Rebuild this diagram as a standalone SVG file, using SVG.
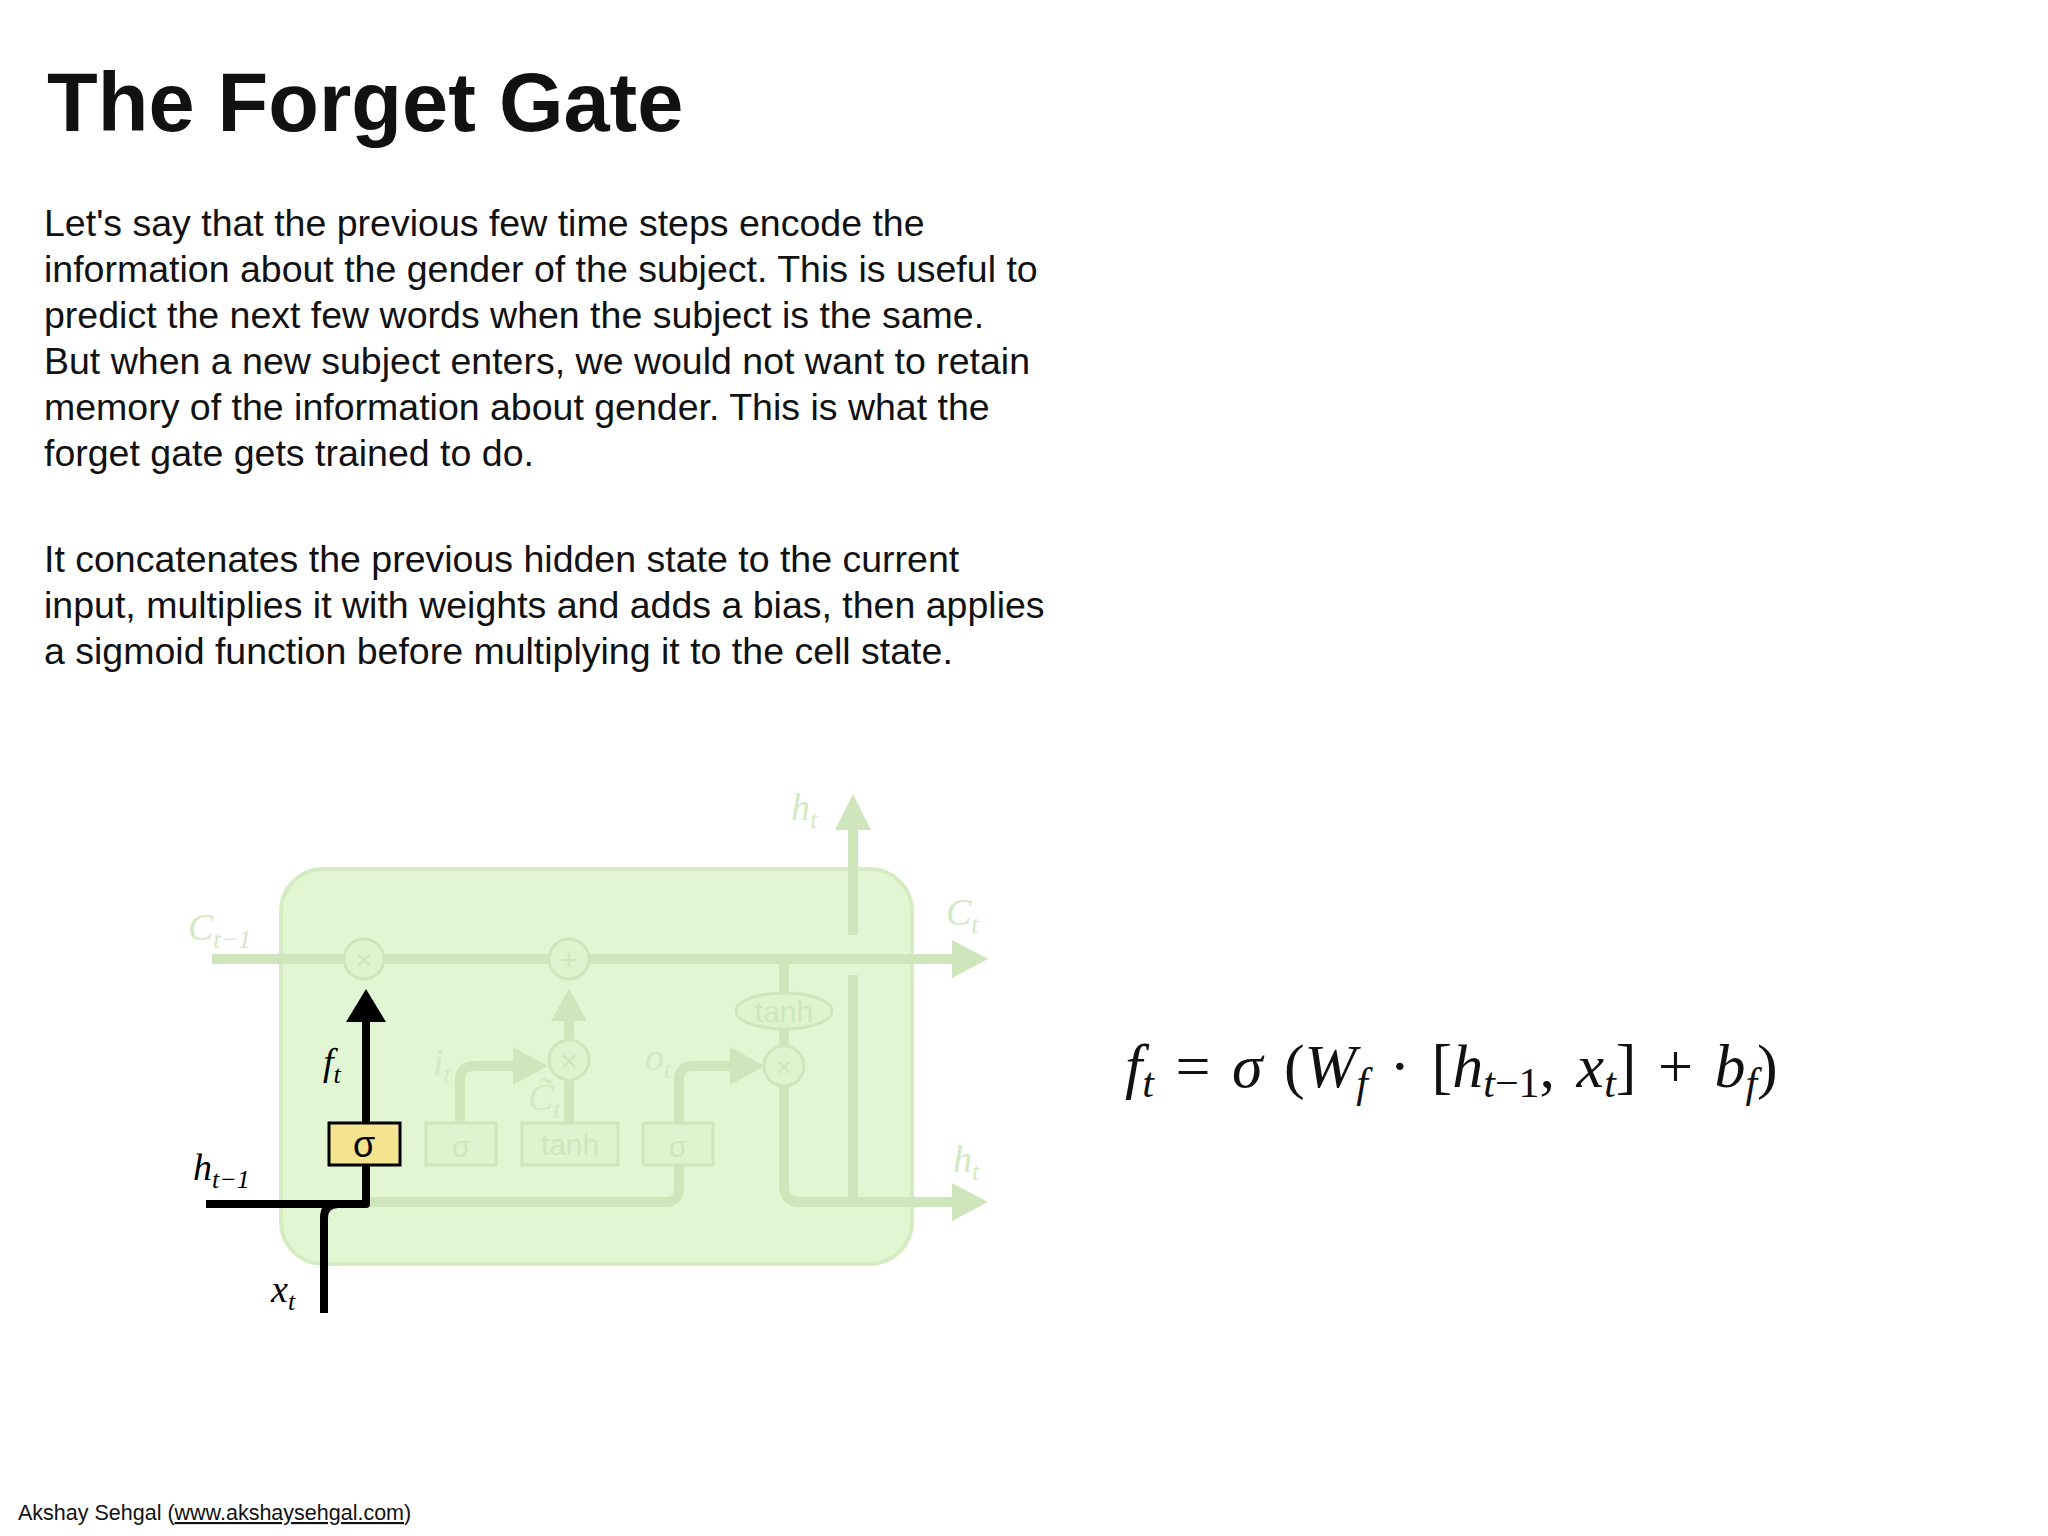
<svg xmlns="http://www.w3.org/2000/svg" width="2048" height="1536" viewBox="0 0 2048 1536">
<defs>
<style>
.t{font-family:"Liberation Sans",Arial,sans-serif;fill:#111}
.m{font-family:"Liberation Serif","Times New Roman",serif;font-style:italic}
.f{fill:none;stroke:#cfe6bd;stroke-width:10;stroke-linejoin:round}
.fc{fill:#dff3cf;stroke:#cfe6bd;stroke-width:3}
.fl{fill:#cfe6bd;font-family:"Liberation Sans",Arial,sans-serif;font-size:30px;text-anchor:middle}
.fm{fill:#cfe6bd}
.b{fill:none;stroke:#000;stroke-width:8;stroke-linejoin:round}
</style>
</defs>
<rect width="2048" height="1536" fill="#fff"/>
<text class="t" x="47" y="131" font-size="83" font-weight="bold">The Forget Gate</text>
<g class="t" font-size="37.5">
<text x="44" y="236">Let's say that the previous few time steps encode the</text>
<text x="44" y="282">information about the gender of the subject. This is useful to</text>
<text x="44" y="328">predict the next few words when the subject is the same.</text>
<text x="44" y="374">But when a new subject enters, we would not want to retain</text>
<text x="44" y="420">memory of the information about gender. This is what the</text>
<text x="44" y="466">forget gate gets trained to do.</text>
<text x="44" y="572">It concatenates the previous hidden state to the current</text>
<text x="44" y="618">input, multiplies it with weights and adds a bias, then applies</text>
<text x="44" y="664">a sigmoid function before multiplying it to the cell state.</text>
</g>
<g id="cell">
<rect x="281" y="869" width="631" height="395" rx="42" fill="#e2f6d3" stroke="#d5ecc3" stroke-width="4"/>
</g>
<g id="connectors">
<path class="f" d="M212 959 H962"/><polygon class="fm" points="988,959 952,940 952,978"/>
<path class="f" d="M366 1202 H665 Q679 1202 679 1188 V1080 Q679 1066 693 1066 H740"/><polygon class="fm" points="765,1066 730,1047 730,1085"/>
<path class="f" d="M460 1165 V1080 Q460 1066 474 1066 H525"/><polygon class="fm" points="548,1066 513,1047 513,1085"/>
<path class="f" d="M569 1165 V1081 M569 1039 V1010"/><polygon class="fm" points="569,988 551,1021 587,1021"/>
<path class="f" d="M784 959 V993 M784 1029 V1045 M784 1087 V1185 Q784 1202 800 1202 H962"/><polygon class="fm" points="988,1202 952,1183 952,1221"/>
<path class="f" d="M853 1200 V975 M853 935 V820"/><polygon class="fm" points="853,794 835,830 871,830"/>
<path class="b" d="M206 1204 H366 V1020"/><polygon points="366,989 346,1022 386,1022" fill="#000"/>
<path class="b" d="M324 1313 V1218 Q324 1204 338 1204"/>
</g>
<g id="ops">
<circle class="fc" cx="364" cy="959" r="20"/><text class="fl" x="364" y="970">×</text>
<circle class="fc" cx="569" cy="959" r="20"/><text class="fl" x="569" y="970">+</text>
<circle class="fc" cx="569" cy="1060" r="20"/><text class="fl" x="569" y="1071">×</text>
<circle class="fc" cx="784" cy="1066" r="20"/><text class="fl" x="784" y="1077">×</text>
<ellipse class="fc" cx="784" cy="1011" rx="48" ry="18"/><text class="fl" x="784" y="1022" font-size="28">tanh</text>
</g>
<g id="gates">
<rect x="329" y="1123" width="71" height="42" fill="#f4e48f" stroke="#000" stroke-width="3"/><text x="364" y="1157" font-family="Liberation Sans,sans-serif" font-size="36" text-anchor="middle">σ</text>
<rect class="fc" x="426" y="1123" width="70" height="42"/><text class="fl" x="461" y="1157" font-size="36">σ</text>
<rect class="fc" x="522" y="1123" width="96" height="42"/><text class="fl" x="570" y="1155">tanh</text>
<rect class="fc" x="643" y="1123" width="70" height="42"/><text class="fl" x="678" y="1157" font-size="36">σ</text>
</g>
<g id="labels" class="m" font-size="38">
<text x="188" y="940" fill="#d3e9c3">C<tspan font-size="26" dy="8">t−1</tspan></text>
<text x="323" y="1075" fill="#000">f<tspan font-size="26" dy="8">t</tspan></text>
<text x="193" y="1180" fill="#000">h<tspan font-size="26" dy="8">t−1</tspan></text>
<text x="271" y="1302" fill="#000">x<tspan font-size="26" dy="8">t</tspan></text>
<text x="433" y="1075" fill="#d3e9c3">i<tspan font-size="26" dy="8">t</tspan></text>
<text x="528" y="1110" fill="#d3e9c3">C̃<tspan font-size="26" dy="8">t</tspan></text>
<text x="645" y="1070" fill="#d3e9c3">o<tspan font-size="26" dy="8">t</tspan></text>
<text x="946" y="925" fill="#d3e9c3">C<tspan font-size="26" dy="8">t</tspan></text>
<text x="953" y="1172" fill="#d3e9c3">h<tspan font-size="26" dy="8">t</tspan></text>
<text x="791" y="820" fill="#d3e9c3">h<tspan font-size="26" dy="8">t</tspan></text>
</g>
<text x="1125" y="1087" font-family="Liberation Serif,serif" font-size="62" fill="#111" word-spacing="6"><tspan font-style="italic">f</tspan><tspan font-size="42" dy="10" font-style="italic">t</tspan><tspan dy="-10"> = </tspan><tspan font-style="italic">σ</tspan> (<tspan font-style="italic">W</tspan><tspan font-size="42" dy="10" font-style="italic">f</tspan><tspan dy="-10"> · [</tspan><tspan font-style="italic">h</tspan><tspan font-size="42" dy="10" font-style="italic">t</tspan><tspan font-size="42">−1</tspan><tspan dy="-10">, </tspan><tspan font-style="italic">x</tspan><tspan font-size="42" dy="10" font-style="italic">t</tspan><tspan dy="-10">]    +    </tspan><tspan font-style="italic">b</tspan><tspan font-size="42" dy="10" font-style="italic">f</tspan><tspan dy="-10">)</tspan></text>
<text class="t" x="18" y="1520" font-size="21.5" fill="#444">Akshay Sehgal (<tspan text-decoration="underline">www.akshaysehgal.com</tspan>)</text>
</svg>
